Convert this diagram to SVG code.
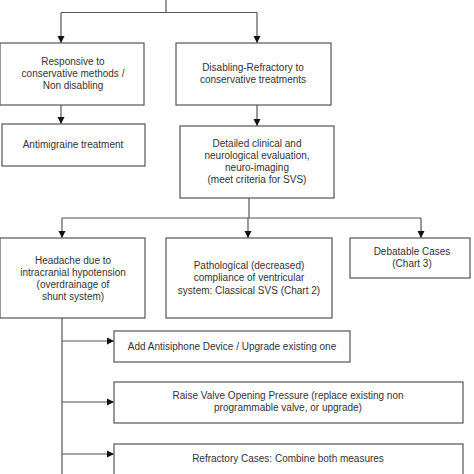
<svg xmlns="http://www.w3.org/2000/svg" width="474" height="474" viewBox="0 0 474 474">
<style>
.box{fill:#fff;stroke:#555;stroke-width:1.2}
.ln{fill:none;stroke:#555;stroke-width:1.2}
text{font-family:"Liberation Sans",Arial,sans-serif;font-size:10px;fill:#333;text-anchor:middle}
</style>
<defs>
<marker id="ah" markerWidth="8" markerHeight="8" refX="7" refY="4" orient="auto" markerUnits="userSpaceOnUse">
<path d="M0,0.5 L7,4 L0,7.5 z" fill="#111"/>
</marker>
</defs>
<rect width="474" height="474" fill="#fff"/>
<g id="connectors">
<path class="ln" d="M166,0 V12.5 M61,12.5 H257"/>
<path class="ln" d="M61,12.5 V43" marker-end="url(#ah)"/>
<path class="ln" d="M257,12.5 V43" marker-end="url(#ah)"/>
<path class="ln" d="M61,105 V124" marker-end="url(#ah)"/>
<path class="ln" d="M257,105 V126" marker-end="url(#ah)"/>
<path class="ln" d="M249,198 V218 M62,218 H421"/>
<path class="ln" d="M62,218 V238" marker-end="url(#ah)"/>
<path class="ln" d="M248,218 V238" marker-end="url(#ah)"/>
<path class="ln" d="M421,218 V238" marker-end="url(#ah)"/>
<path class="ln" d="M62,318 V474"/>
<path class="ln" d="M62,341 H114" marker-end="url(#ah)"/>
<path class="ln" d="M62,402 H114" marker-end="url(#ah)"/>
<path class="ln" d="M62,454 H114" marker-end="url(#ah)"/>
</g>
<g id="n1">
<rect class="box" x="0" y="43" width="144" height="62"/>
<text x="73" y="65">Responsive to</text>
<text x="73" y="77">conservative methods /</text>
<text x="73" y="89">Non disabling</text>
</g>
<g id="n2">
<rect class="box" x="176" y="43" width="155" height="62"/>
<text x="253" y="71">Disabling-Refractory to</text>
<text x="253" y="83">conservative treatments</text>
</g>
<g id="n3">
<rect class="box" x="2" y="124" width="143" height="42"/>
<text x="73" y="148">Antimigraine treatment</text>
</g>
<g id="n4">
<rect class="box" x="180" y="126" width="154" height="72"/>
<text x="257" y="147">Detailed clinical and</text>
<text x="257" y="159">neurological evaluation,</text>
<text x="257" y="171">neuro-imaging</text>
<text x="257" y="183">(meet criteria for SVS)</text>
</g>
<g id="n5">
<rect class="box" x="0" y="238" width="145" height="80"/>
<text x="73" y="264">Headache due to</text>
<text x="73" y="276">intracranial hypotension</text>
<text x="73" y="288">(overdrainage of</text>
<text x="73" y="300">shunt system)</text>
</g>
<g id="n6">
<rect class="box" x="166" y="238" width="166" height="80"/>
<text x="249" y="269">Pathological (decreased)</text>
<text x="249" y="281">compliance of ventricular</text>
<text x="249" y="294">system: Classical SVS (Chart 2)</text>
</g>
<g id="n7">
<rect class="box" x="350" y="238" width="120" height="40"/>
<text x="412" y="255">Debatable Cases</text>
<text x="412" y="267">(Chart 3)</text>
</g>
<g id="n8">
<rect class="box" x="114" y="331" width="236" height="31"/>
<text x="232" y="350">Add Antisiphone Device / Upgrade existing one</text>
</g>
<g id="n9">
<rect class="box" x="114" y="382" width="349" height="41"/>
<text x="288" y="399">Raise Valve Opening Pressure (replace existing non</text>
<text x="288" y="411">programmable valve, or upgrade)</text>
</g>
<g id="n10">
<rect class="box" x="114" y="444" width="349" height="40"/>
<text x="288" y="462">Refractory Cases: Combine both measures</text>
</g>
</svg>
